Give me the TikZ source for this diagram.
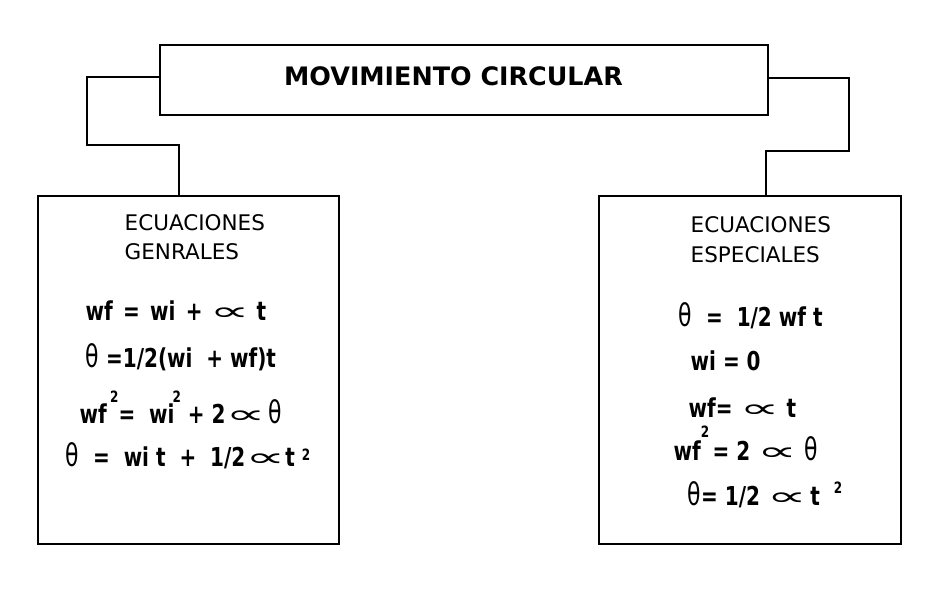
\documentclass[tikz,border=0pt]{standalone}
\usepackage{fontspec}
\setmainfont{DejaVu Sans}
\newfontfamily\symfont{DejaVu Sans}
\usepackage{graphicx}

% hand drawn symbols of the original
\newcommand{\alf}{\scalebox{2.8}[1]{\normalfont\symfont ∝}}
\newcommand{\tht}{\scalebox{1.1}[1.2]{\normalfont\symfont θ}}
\newcommand{\sqr}[1][0.8em]{\raisebox{#1}{\fontsize{12}{12}\selectfont 2}}
\newcommand{\tall}[1]{\scalebox{1}[1.3]{#1}}

\begin{document}
\begin{tikzpicture}[x=1pt, y=-1pt, line width=1.4pt,
    box/.style={draw, rectangle, inner sep=0pt},
    head/.style={anchor=base west, inner sep=0pt, font=\fontsize{21.5}{21.5}\selectfont},
    eq/.style={anchor=base west, inner sep=0pt, font=\fontsize{20}{20}\selectfont\bfseries}]
    \useasboundingbox (0,0) rectangle (944,594);

    \node[box, minimum width=608, minimum height=70] (title) at (464,80) {};
    \node[anchor=base, inner sep=0pt, font=\fontsize{25.4}{25.4}\selectfont\bfseries] (titletext) at (453.5,85) {MOVIMIENTO CIRCULAR};
    \node[box, minimum width=301, minimum height=348] (general) at (188.5,370) {};
    \node[box, minimum width=302, minimum height=348] (special) at (750,370) {};

    \draw ([yshift=3pt]title.west) -| (87,145) -| ([xshift=-9.5pt]general.north);
    \draw ([yshift=2pt]title.east) -| (849,151) -| ([xshift=16pt]special.north);

    % ecuaciones generales
    \node[head] (g1) at (124,230) {ECUACIONES};
    \node[head] (g2) at (124,259) {GENRALES};
    \node[eq] (g3) at (85,320) {\tall{wf \,= \,wi\ \,+ \alf\ t}};
    \node[eq] (g4) at (85,367) {\tall{\tht\ =1/2(wi\ \ + wf)t}};
    \node[eq] (g5) at (79,423) {\tall{wf\,\sqr=\ \ wi\kern-2pt\sqr\ + 2\alf\,\tht}};
    \node[eq] (g6) at (65,466) {\tall{\tht\ \ = \ wi t \ + \ 1/2\alf t\ \sqr[0.2em]}};

    % ecuaciones especiales
    \node[head] (s1) at (690,232) {ECUACIONES};
    \node[head] (s2) at (690,262) {ESPECIALES};
    \node[eq] (s3) at (678,326) {\tall{\tht\ \ = \ 1/2 wf t}};
    \node[eq] (s4) at (690,370) {\tall{wi = 0}};
    \node[eq] (s5) at (688,417) {\tall{wf= \alf\ t}};
    \node[eq] (s6) at (673,460) {\tall{wf\sqr[0.85em]\,= 2 \alf\ \tht}};
    \node[eq] (s7) at (687,505) {\tall{\tht= 1/2 \alf\,t\ \ \sqr[0.45em]}};
\end{tikzpicture}
\end{document}
